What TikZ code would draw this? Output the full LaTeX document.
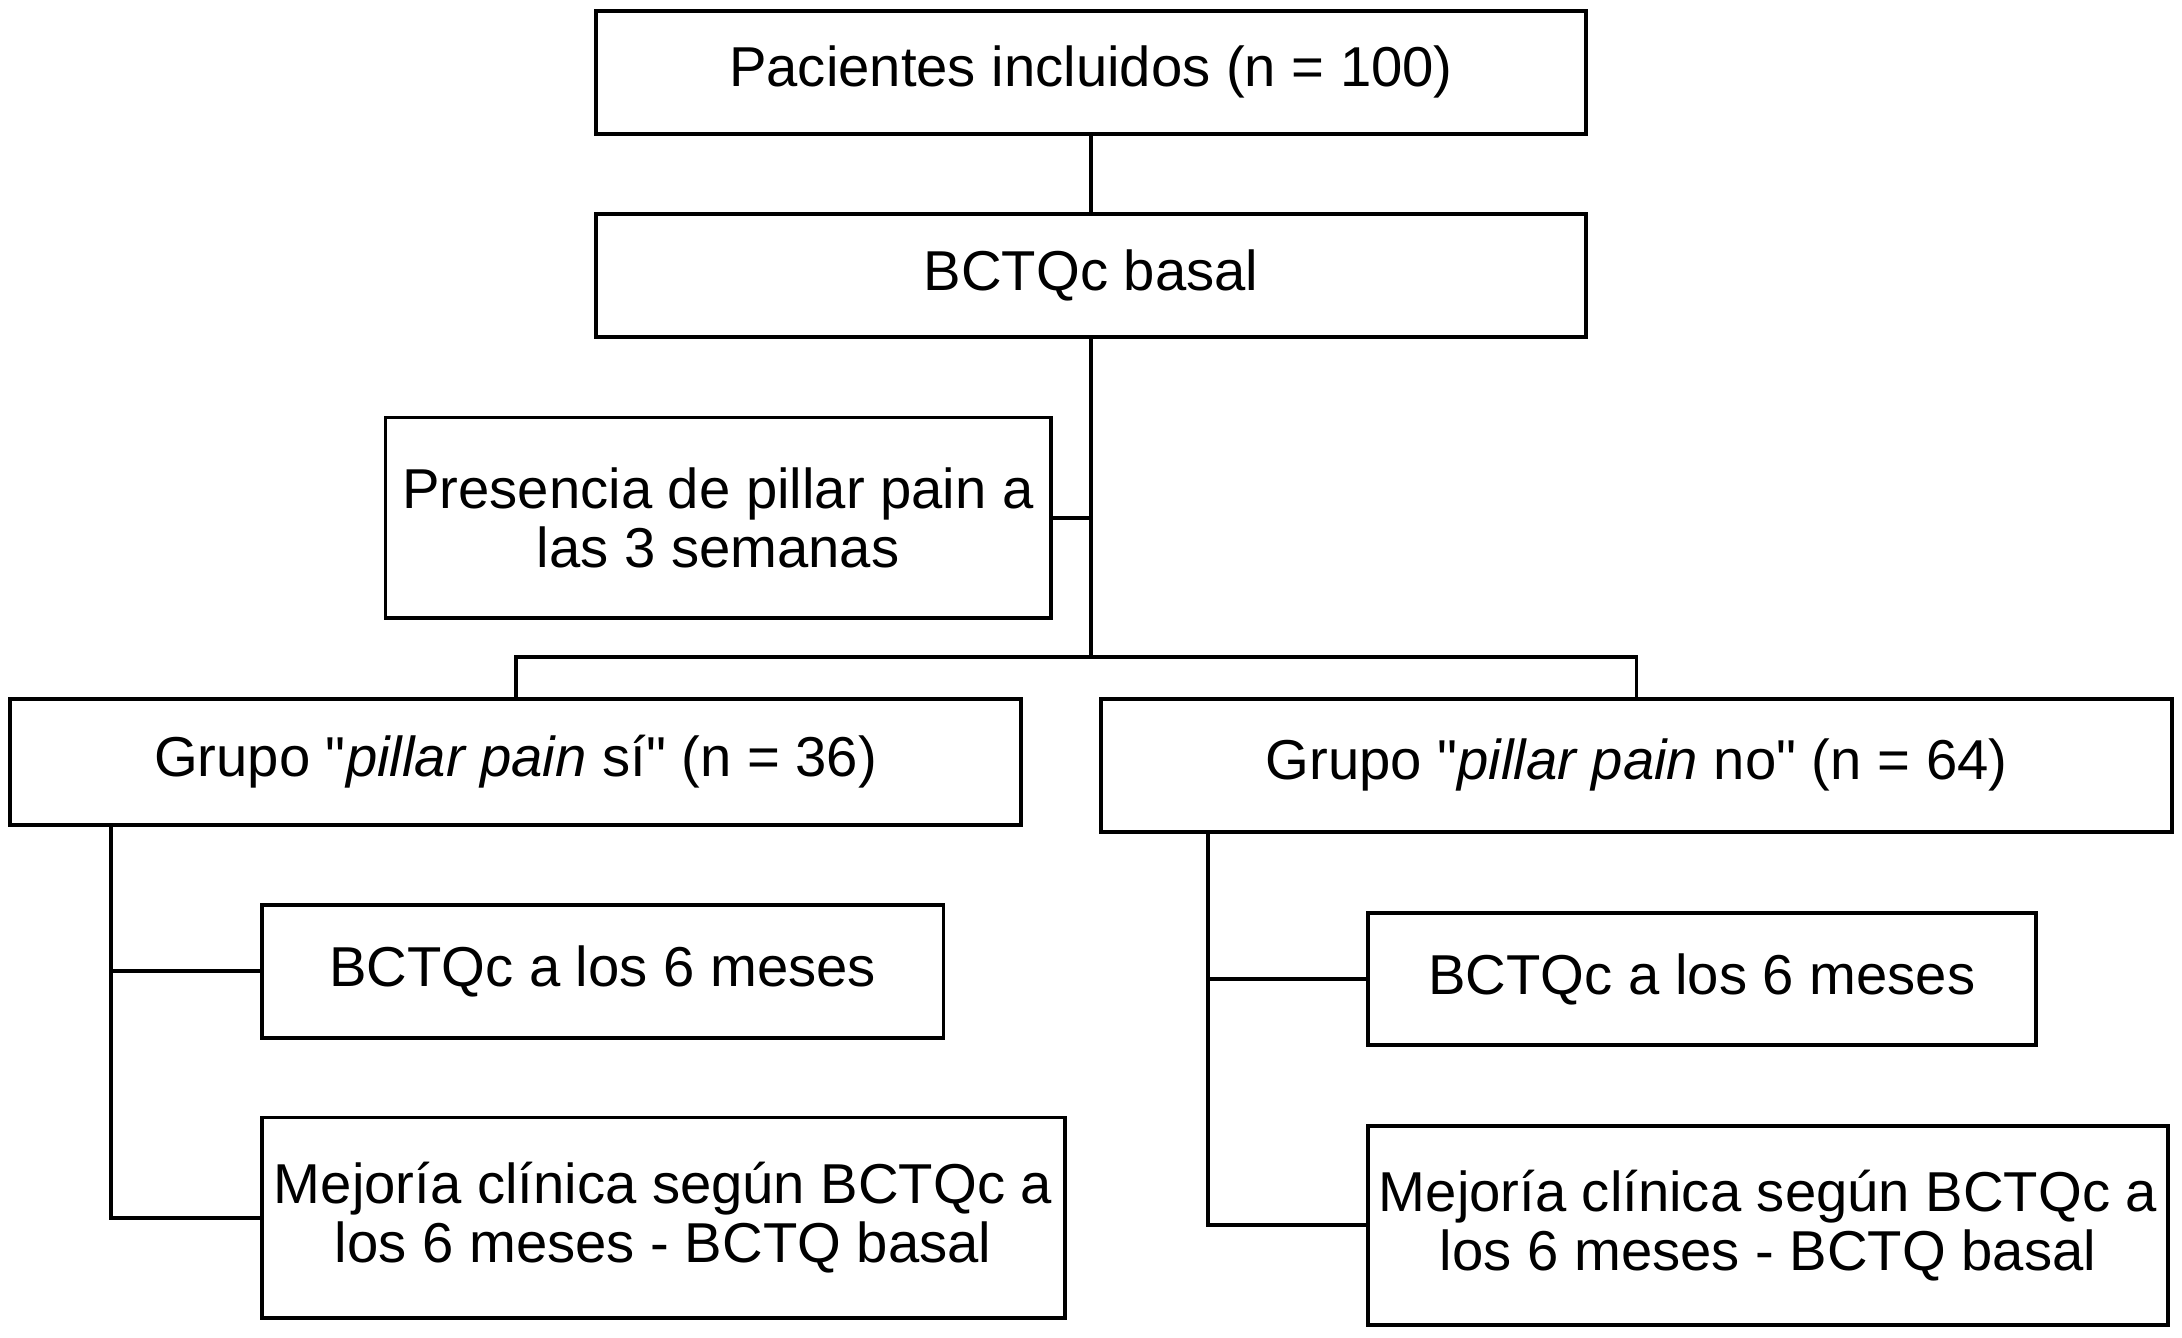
\documentclass[tikz,border=0pt]{standalone}
\usepackage{fontspec}
\setmainfont{Liberation Sans}
\begin{document}
\begin{tikzpicture}[
    x=0.02cm,y=-0.02cm,line width=1.6pt,
    every node/.style={font=\fontsize{23}{24}\selectfont},
    caja/.style n args={2}{draw,align=center,inner sep=2pt,
        minimum width=#1*0.02cm,minimum height=#2*0.02cm}]
    \useasboundingbox (0,0) rectangle (1568,961);

    \node[caja={712}{88}] (incl) at (784,52) {Pacientes incluidos (n = 100)};
    \node[caja={712}{88}] (basal) at (784,198) {BCTQc basal};
    \node[caja={478}{144}] (pillar) at (516,372) {Presencia de pillar pain a\\las 3 semanas};
    \node[caja={727}{91}] (gsi) at (370.5,547.5) {Grupo \textquotedbl\textit{pillar pain} sí\textquotedbl{} (n = 36)};
    \node[caja={770}{96}] (gno) at (1176,550) {Grupo \textquotedbl\textit{pillar pain} no\textquotedbl{} (n = 64)};
    \node[caja={490}{96}] (sisix) at (433,698) {BCTQc a los 6 meses};
    \node[caja={577}{144}] (simej) at (476.5,875) {Mejoría clínica según BCTQc a\\los 6 meses - BCTQ basal};
    \node[caja={480}{95}] (nosix) at (1223,703.5) {BCTQc a los 6 meses};
    \node[caja={575}{143}] (nomej) at (1270.5,880.5) {Mejoría clínica según BCTQc a\\los 6 meses - BCTQ basal};

    \coordinate (split) at (784,472);
    \coordinate (lx) at (80,0);
    \coordinate (rx) at (868,0);

    \draw (incl) -- (basal);
    \draw (basal) -- (split);
    \draw (pillar.east) -- (pillar.east -| split);
    \draw (gsi.north) |- (split) -| (gno.north);
    \draw (gsi.south -| lx) |- (simej.west);
    \draw (sisix.west) -- (sisix.west -| lx);
    \draw (gno.south -| rx) |- (nomej.west);
    \draw (nosix.west) -- (nosix.west -| rx);
\end{tikzpicture}
\end{document}
